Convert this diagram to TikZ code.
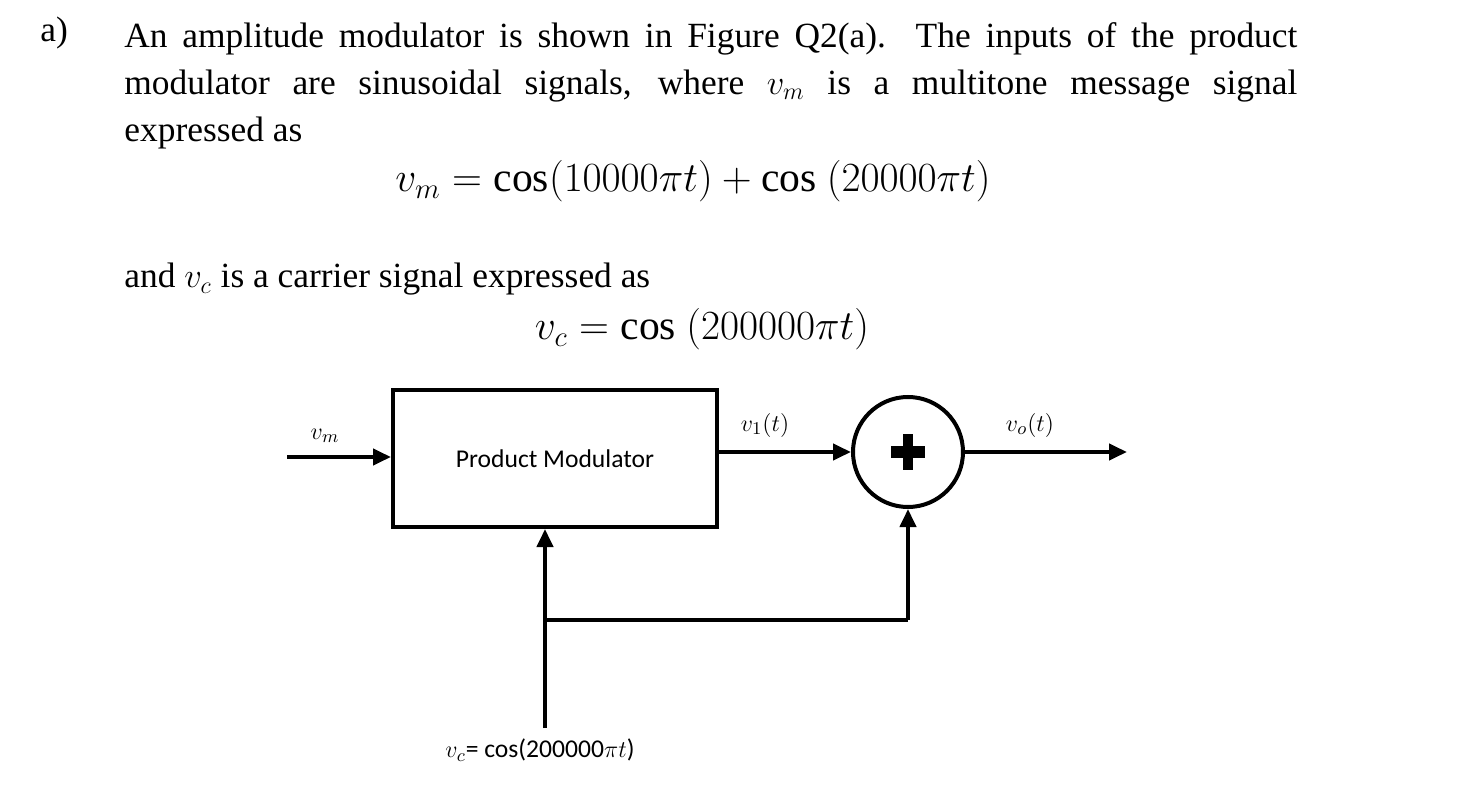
\documentclass[tikz,border=0pt]{standalone}
\usepackage{fontspec}
\setmainfont{Liberation Serif}
\newfontfamily\calfont{Carlito}
\usetikzlibrary{arrows.meta}
\begin{document}
\begin{tikzpicture}[x=0.5pt,y=-0.5pt,
  wire/.style={line width=2pt},
  arr/.style={wire,-{Triangle[length=9pt,width=8pt]}},
  lab/.style={font=\calfont\fontsize{12.8}{15}\selectfont,inner sep=0pt},
  body/.style={font=\fontsize{17.7}{23.5}\selectfont,inner sep=0pt},
  eq/.style={font=\fontsize{20.8}{25}\selectfont,inner sep=0pt}]
\useasboundingbox (0,0) rectangle (1463,791);
\node[body,anchor=base west] (a) at (40,42) {a)};
\node[body,anchor=north west,text width=586.5pt,align=justify] (p) at (124,22)
 {An amplitude modulator is shown in Figure Q2(a). The inputs of the product\linebreak modulator are sinusoidal signals, where $v_m$ is a multitone message signal\linebreak expressed as};
\node[eq,anchor=base] (e1) at (693,192) {$v_m = \mathrm{cos}(10000\pi t) + \mathrm{cos}\ (20000\pi t)$};
\node[body,anchor=base west] (t2) at (124,288) {and $v_c$ is a carrier signal expressed as};
\node[eq,anchor=base] (e2) at (702,340) {$v_c = \mathrm{cos}\ (200000\pi t)$};
\node[draw,wire,minimum width=162pt,minimum height=68.5pt,lab] (pm) at (555,458.5) {Product Modulator};
\coordinate (in) at (287,457);
\draw[arr] (in) -- (pm.west|-in);
\node[lab] (lm) at (325,436) {$v_m$};
\node[draw,wire,circle,minimum size=55pt,inner sep=0pt] (s) at (908,452) {};
\fill (s.center) ++(-5,-18) rectangle ++(10,36);
\fill (s.center) ++(-17,-6) rectangle ++(34,12);
\draw[arr] (pm.east|-s) -- (s.west);
\node[lab] (l1) at (765,425) {$v_1(t)$};
\coordinate (out) at (1127,452);
\draw[arr] (s.east) -- (out);
\node[lab] (lo) at (1030,425) {$v_o(t)$};
\coordinate (src) at (545,728);
\coordinate (j) at (545,620);
\coordinate (k) at (908,620);
\draw[arr] (src) -- (src|-pm.south);
\draw[wire] (j) -- (k);
\draw[arr] (k) -- (s.south);
\node[lab] (lc) at (540,750) {$v_c$= cos(200000$\pi t$)};
\end{tikzpicture}
\end{document}
